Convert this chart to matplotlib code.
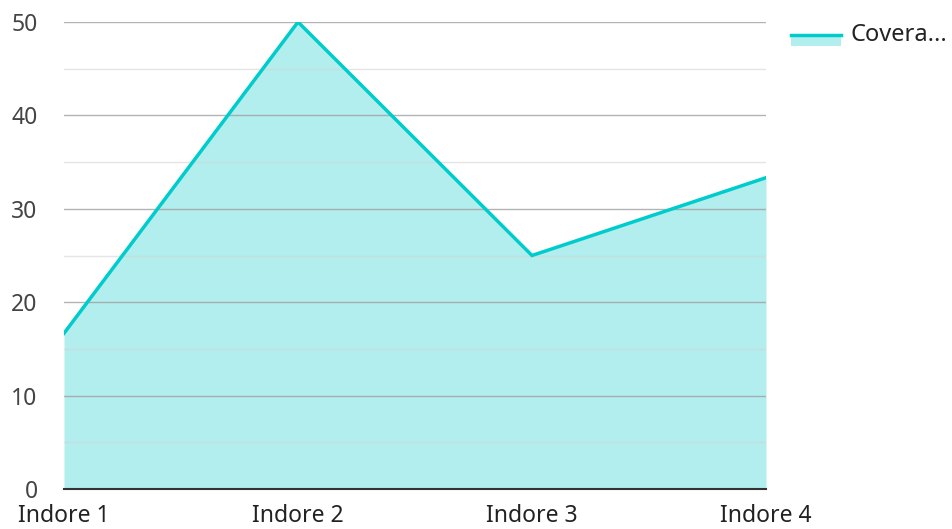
import matplotlib.pyplot as plt
from matplotlib.lines import Line2D
from matplotlib.patches import Rectangle

plt.rcParams['font.family'] = ['Noto Sans', 'DejaVu Sans']

categories = ['Indore 1', 'Indore 2', 'Indore 3', 'Indore 4']
coverage = [16.67, 50, 25, 33.33]
series_name = 'Covera...'

line_color = '#00cccc'
fill_color = '#b2eeee'

W, H = 952, 529
fig = plt.figure(figsize=(W / 100, H / 100), dpi=100)
ax = fig.add_axes([64 / W, 1 - 489 / H, (766 - 64) / W, (489 - 22) / H])

x = range(len(categories))
ax.fill_between(x, 0, coverage, color=fill_color, lw=0, zorder=1)
ax.plot(x, coverage, color=line_color, lw=2.5, zorder=3, solid_joinstyle='miter')

ax.set_xlim(0, len(categories) - 1)
ax.set_ylim(0, 50)
ax.set_yticks(range(0, 51, 10))
ax.set_yticks(range(5, 51, 10), minor=True)
ax.grid(axis='y', which='major', color='#a0a0a0', lw=1, alpha=0.8, zorder=2)
ax.grid(axis='y', which='minor', color='#d4d4d4', lw=1, alpha=0.6, zorder=2)
ax.set_axisbelow(False)
for s in ['top', 'right', 'left']:
    ax.spines[s].set_visible(False)
ax.spines['bottom'].set_color('#333333')
ax.spines['bottom'].set_linewidth(1.5)
ax.spines['bottom'].set_zorder(4)

ax.set_xticks(list(x))
ax.set_xticklabels(categories, fontsize=16.5, color='#222222')
ax.tick_params(axis='x', length=0, pad=10.5)
ax.tick_params(axis='y', which='both', length=0, labelsize=16.5, labelcolor='#444444', pad=19)
for t in ax.get_yticklabels():
    t.set_horizontalalignment('right')

# legend drawn by hand
fig.patches.append(Rectangle((791 / W, 1 - 46 / H), 50 / W, 11 / H,
                             transform=fig.transFigure, color=fill_color, lw=0))
fig.lines.append(Line2D([791 / W, 841 / W], [1 - 35 / H, 1 - 35 / H],
                        transform=fig.transFigure, color=line_color, lw=2.5))
fig.text(851 / W, 1 - 35 / H, series_name, fontsize=17, color='#222222', va='center', ha='left')

fig.savefig('out.png', dpi=100)
